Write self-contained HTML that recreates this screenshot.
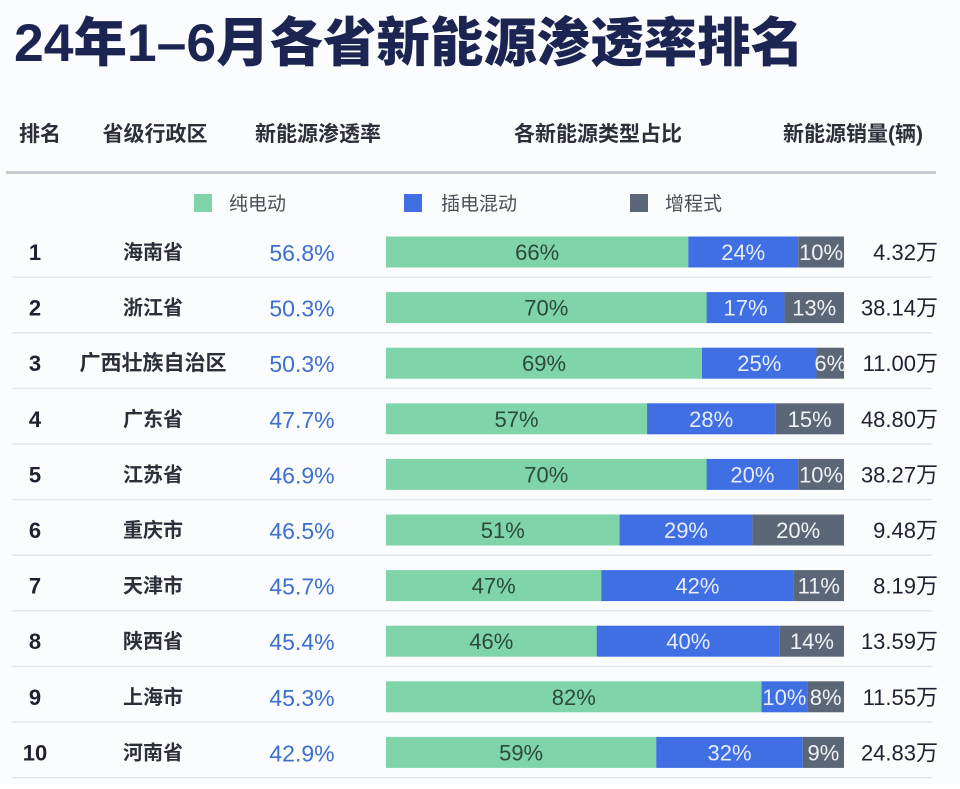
<!DOCTYPE html>
<html><head><meta charset="utf-8"><style>
body{margin:0;background:#fff;}
svg text{font-family:"Liberation Sans","Noto Sans CJK SC",sans-serif;}
</style></head><body>
<svg width="960" height="784" viewBox="0 0 960 784">
<rect width="960" height="784" fill="#fbfcfe"/>
<text x="14" y="61" font-size="53" font-weight="900" fill="#1c2452" textLength="790" lengthAdjust="spacingAndGlyphs">24年1–6月各省新能源渗透率排名</text>
<g font-size="21" font-weight="bold" fill="#2a2f3a">
<text x="40" y="141" text-anchor="middle">排名</text>
<text x="155" y="141" text-anchor="middle">省级行政区</text>
<text x="318" y="141" text-anchor="middle">新能源渗透率</text>
<text x="598" y="141" text-anchor="middle">各新能源类型占比</text>
<text x="853" y="141" text-anchor="middle">新能源销量(辆)</text>
</g>
<rect x="6" y="171" width="930" height="3" fill="#c8ccd2"/>
<g font-size="19" fill="#4a4f58">
<g><rect x="194" y="194" width="18" height="18" fill="#7fd4a9"/><text x="229" y="210">纯电动</text></g>
<g><rect x="404" y="194" width="18" height="18" fill="#3f6fe3"/><text x="441" y="210">插电混动</text></g>
<g><rect x="630" y="194" width="18" height="18" fill="#5b6776"/><text x="665" y="210">增程式</text></g>
</g>
<g id="rows"></g>
</svg>
<script>
const provinces=["海南省","浙江省","广西壮族自治区","广东省","江苏省","重庆市","天津市","陕西省","上海市","河南省"];
const rates=[56.8,50.3,50.3,47.7,46.9,46.5,45.7,45.4,45.3,42.9];
const bev=[66,70,69,57,70,51,47,46,82,59];
const phev=[24,17,25,28,20,29,42,40,10,32];
const erev=[10,13,6,15,10,20,11,14,8,9];
const sales=[4.32,38.14,11.00,48.80,38.27,9.48,8.19,13.59,11.55,24.83];
const NS="http://www.w3.org/2000/svg";
const g=document.getElementById('rows');
const x0=386,x1=844,rowTop=252,rowStep=55.6,bh=31;
const xs=p=>x0+(x1-x0)*p/100;
const yr=i=>rowTop+i*rowStep;
function mk(tag,attrs,txt){const e=document.createElementNS(NS,tag);for(const k in attrs)e.setAttribute(k,attrs[k]);if(txt!==undefined)e.textContent=txt;g.appendChild(e);return e;}
provinces.forEach((p,i)=>{
 const y=yr(i);
 let e=mk('text',{x:35,y:y+8,'font-size':22,'font-weight':'bold','text-anchor':'middle',fill:'#1e2230'},String(i+1));
 
 
 e=mk('text',{x:153,y:y+7,'font-size':p.length>4?21:20,'font-weight':'bold','text-anchor':'middle',fill:'#2a2f3a'},p);
 
 
 e=mk('text',{x:302,y:y+9,'font-size':23,'text-anchor':'middle',fill:'#3c6fce'},rates[i].toFixed(1)+'%');
 
 
 const segs=[[bev[i],'#7fd4a9','#2c4a3c','bev'],[phev[i],'#3f6fe3','#e6ecff','phev'],[erev[i],'#5b6776','#f0f2f5','erev']];
 let acc=0;
 segs.forEach(s=>{
  const a=xs(acc),b=xs(acc+s[0]);
  const r=mk('rect',{x:a,y:y-bh/2,width:b-a,height:bh,fill:s[1]});
  
  
  const t=mk('text',{x:(a+b)/2,y:y+8,'font-size':22,'text-anchor':'middle',fill:s[2]},s[0]+'%');
  
  
  acc+=s[0];
 });
 e=mk('text',{x:938,y:y+8,'font-size':22,'text-anchor':'end',fill:'#1e2230'},sales[i].toFixed(2)+'万');
 
 
 const l=mk('rect',{x:12,y:y+bh/2+9,width:920,height:1.5,fill:'#e3e6ea'});
 
 
});
</script>
</body></html>
